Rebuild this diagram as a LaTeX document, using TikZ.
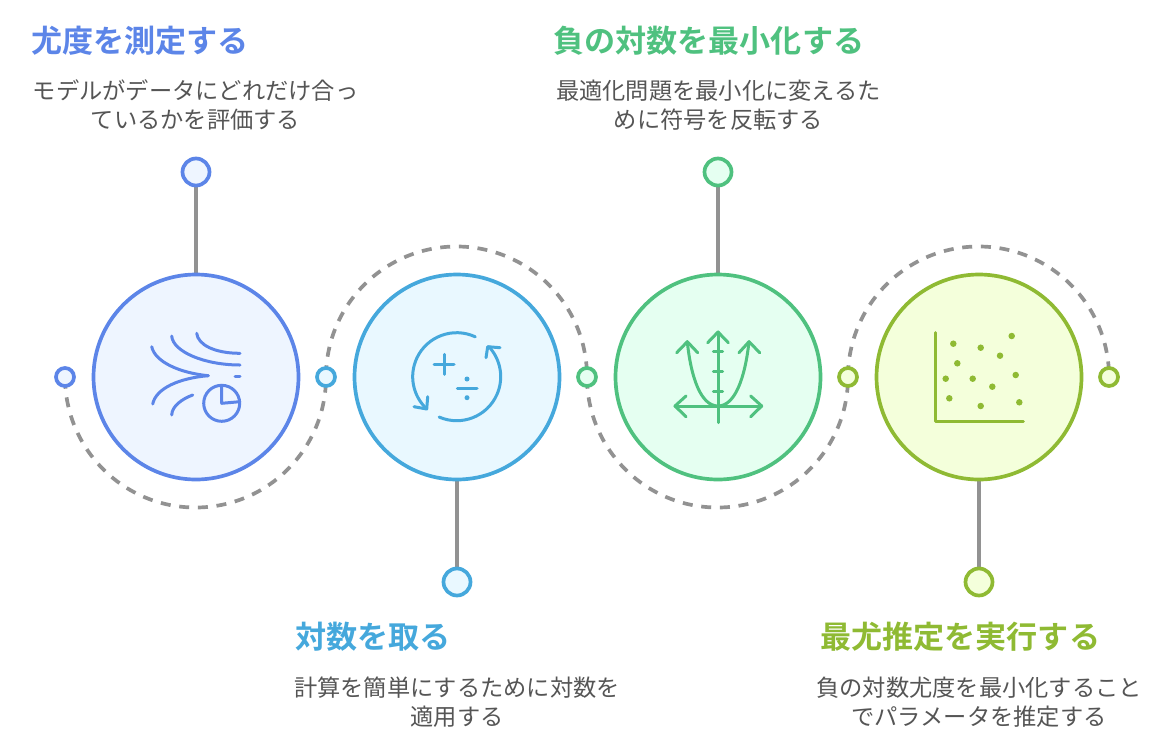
\documentclass[tikz,border=0pt]{standalone}
\usepackage{fontspec}
\setmainfont{Noto Sans CJK JP}
\newfontfamily\headfont{Noto Sans CJK JP Bold}
\usetikzlibrary{backgrounds}
\definecolor{cblue}{HTML}{5C85E8}\definecolor{fblue}{HTML}{EEF5FF}
\definecolor{ccyan}{HTML}{45A8DC}\definecolor{fcyan}{HTML}{E9F8FF}
\definecolor{cgreen}{HTML}{4FC17F}\definecolor{fgreen}{HTML}{E5FFF1}
\definecolor{colive}{HTML}{8FBA33}\definecolor{folive}{HTML}{F4FFDB}
\definecolor{cgray}{HTML}{929292}\definecolor{ctext}{HTML}{555555}
\tikzset{
 big/.style={circle,draw=#1,line width=3.7pt,minimum size=205pt,inner sep=0pt},
 mid/.style={circle,draw=#1,line width=3.7pt,minimum size=27pt,inner sep=0pt},
 tiny/.style={circle,draw=#1,line width=3.7pt,minimum size=18pt,inner sep=0pt},
 stem/.style={draw=cgray,line width=3.7pt},
 dashline/.style={draw=cgray,line width=3.7pt,dash pattern=on 10pt off 8.7pt,dash phase=17pt},
 heading/.style={anchor=west,inner sep=0pt,font=\fontsize{31.1pt}{34pt}\headfont,text=#1},
 body/.style={anchor=center,inner sep=0pt,align=center,text=ctext,font=\fontsize{23.25pt}{29pt}\selectfont},
 icon/.style={draw=#1,line width=3pt,line cap=round,line join=round},
 dotmark/.style={fill=#1,draw=none,circle,inner sep=0pt,minimum size=6.5pt}
}
\begin{document}
\begin{tikzpicture}[x=1pt,y=-1pt]
\useasboundingbox (0,0) rectangle (1161,742);
% main circles
\node[big=cblue,fill=fblue] (c1) at (196,377) {};
\node[big=ccyan,fill=fcyan] (c2) at (457,377) {};
\node[big=cgreen,fill=fgreen] (c3) at (718,377) {};
\node[big=colive,fill=folive] (c4) at (979,377) {};
% end circles
\node[mid=cblue,fill=fblue] (t1) at (196,172) {};
\node[mid=ccyan,fill=fcyan] (t2) at (457,582) {};
\node[mid=cgreen,fill=fgreen] (t3) at (718,172) {};
\node[mid=colive,fill=folive] (t4) at (979,582) {};
% small circles
\node[tiny=cblue,fill=fblue] (s1) at (65,377) {};
\node[tiny=ccyan,fill=fcyan] (s2) at (326,377) {};
\node[tiny=cgreen,fill=fgreen] (s3) at (587,377) {};
\node[tiny=colive,fill=folive] (s4) at (848,377) {};
\node[tiny=colive,fill=folive] (s5) at (1109,377) {};
\begin{scope}[on background layer]
\draw[stem] (t1) -- (c1);
\draw[stem] (t2) -- (c2);
\draw[stem] (t3) -- (c3);
\draw[stem] (t4) -- (c4);
\draw[dashline] (s1.center) arc[start angle=180,end angle=360,radius=130.5pt];
\draw[dashline] (s2.center) arc[start angle=180,end angle=0,radius=130.5pt];
\draw[dashline] (s3.center) arc[start angle=180,end angle=360,radius=130.5pt];
\draw[dashline] (s4.center) arc[start angle=180,end angle=0,radius=130.5pt];
\end{scope}
% texts
\node[heading=cblue] (h1) at (31,41) {尤度を測定する};
\node[body] (b1) at (195.5,105.5) {モデルがデータにどれだけ合っ\\ているかを評価する};
\node[heading=cgreen] (h3) at (553,41) {負の対数を最小化する};
\node[body] (b3) at (718.5,105.5) {最適化問題を最小化に変えるた\\めに符号を反転する};
\node[heading=ccyan] (h2) at (295,637) {対数を取る};
\node[body] (b2) at (457,702.5) {計算を簡単にするために対数を\\適用する};
\node[heading=colive] (h4) at (820,637) {最尤推定を実行する};
\node[body] (b4) at (979,702.5) {負の対数尤度を最小化すること\\でパラメータを推定する};
% icon 1
\begin{scope}[icon=cblue]
\draw (151.7,346.7) .. controls (155,362) and (180,373) .. (208.3,375.7);
\draw (152.7,404) .. controls (156,388) and (180,378) .. (208.3,375.7);
\draw (171.7,336) .. controls (173,352) and (205,365) .. (240,365);
\draw (196.7,333.3) .. controls (198,345) and (215,353.3) .. (240,353.3);
\draw (171.7,415) .. controls (172,406) and (182,399) .. (192.7,395);
\draw (235,376.3) -- (240,376.3);
\draw (221.7,403.3) circle[radius=18pt];
\draw (221.7,385.3) -- (221.7,403.3) -- (239.7,401.7);
\end{scope}
% icon 2
\begin{scope}[icon=ccyan]
\draw (456.7,376.7) ++(65:44pt) arc[start angle=65,end angle=227,radius=44pt];
\draw (456.7,376.7) ++(246.5:44pt) arc[start angle=246.5,end angle=403,radius=44pt];
\draw (414,406.7) -- (426.7,409) -- (427.7,396.7);
\draw (486,357.7) -- (487.7,346.7) -- (500,347.7);
\draw (434,364.3) -- (454,364.3);
\draw (444,354.3) -- (444,374.3);
\draw (457.3,388) -- (477,388);
\end{scope}
\node[dotmark=ccyan,minimum size=5pt] (d21) at (467,379) {};
\node[dotmark=ccyan,minimum size=5pt] (d22) at (467,397.7) {};
% icon 3
\begin{scope}[icon=cgreen]
\draw (718,332) -- (718,422.7);
\draw (707.7,342.7) -- (718,332) -- (728.3,342.7);
\draw (675,406) -- (761.7,406);
\draw (686,396) -- (675,406) -- (686,416.7);
\draw (750.7,396) -- (761.7,406) -- (750.7,416.7);
\draw (713.3,351.7) -- (722.7,351.7);
\draw (713.3,371.7) -- (722.7,371.7);
\draw (713.3,391) -- (722.7,391);
\draw (687.3,341.7) .. controls (691,378) and (701,406) .. (718,406) .. controls (735,406) and (745,378) .. (749,341.7);
\draw (676.7,352.7) -- (687.3,341.7) -- (697.7,352.7);
\draw (739,352.7) -- (749,341.7) -- (759.7,352.7);
\end{scope}
% icon 4
\draw[icon=colive] (935.3,332.7) -- (935.3,421) -- (1023.3,421);
\node[dotmark=colive] (d1) at (953.3,343.7) {};
\node[dotmark=colive] (d2) at (980.7,347.7) {};
\node[dotmark=colive] (d3) at (1011.7,336) {};
\node[dotmark=colive] (d4) at (1000,355.7) {};
\node[dotmark=colive] (d5) at (957.3,363.3) {};
\node[dotmark=colive] (d6) at (945.7,378.7) {};
\node[dotmark=colive] (d7) at (972.7,378.7) {};
\node[dotmark=colive] (d8) at (1015.7,375) {};
\node[dotmark=colive] (d9) at (992.3,386.7) {};
\node[dotmark=colive] (d10) at (949.3,398.3) {};
\node[dotmark=colive] (d11) at (980.7,406) {};
\node[dotmark=colive] (d12) at (1019.3,402.3) {};
\end{tikzpicture}
\end{document}
